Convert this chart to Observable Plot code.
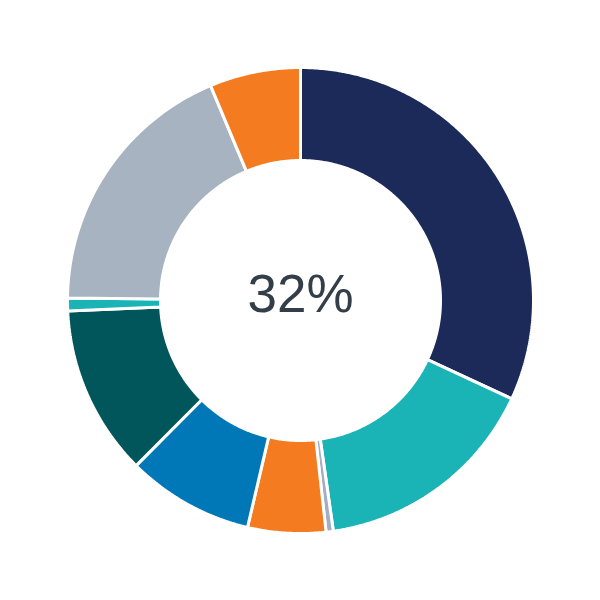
<!DOCTYPE html>
<html>
<head>
<meta charset="utf-8">
<script src="https://cdn.jsdelivr.net/npm/d3@7"></script>
<script src="https://cdn.jsdelivr.net/npm/@observablehq/plot@0.6"></script>
<style>
  html, body { margin: 0; padding: 0; background: #fff; }
  #chart { width: 600px; height: 600px; }
</style>
</head>
<body>
<div id="chart"></div>
<script>
const categories = ["S1", "S2", "S3", "S4", "S5", "S6", "S7", "S8", "S9"];
const values = [31.9, 15.8, 0.5, 5.4, 8.8, 11.8, 0.9, 18.5, 6.3];
const colors = ["#1c2a5a", "#1bb4b6", "#a5adc2", "#f47b20", "#0077b6", "#00565a", "#1bb4b6", "#a8b3c2", "#f47b20"];
const centerLabel = "32%";

const outerR = 233;
const innerR = 140;

const pie = d3.pie().sort(null).value(d => d.value);
const arcs = pie(categories.map((c, i) => ({category: c, value: values[i]})));

// Build polygon outline points for each slice (outer arc then inner arc reversed)
const pts = [];
for (const a of arcs) {
  const n = Math.max(2, Math.ceil((a.endAngle - a.startAngle) / (Math.PI / 360)));
  for (let k = 0; k <= n; k++) {
    const t = a.startAngle + (a.endAngle - a.startAngle) * k / n;
    pts.push({category: a.data.category, x: outerR * Math.sin(t), y: -outerR * Math.cos(t)});
  }
  for (let k = n; k >= 0; k--) {
    const t = a.startAngle + (a.endAngle - a.startAngle) * k / n;
    pts.push({category: a.data.category, x: innerR * Math.sin(t), y: -innerR * Math.cos(t)});
  }
}

const chart = Plot.plot({
  width: 600,
  height: 600,
  margin: 0,
  x: {domain: [-300, 300], axis: null},
  y: {domain: [-300, 300], range: [0, 600], axis: null},
  color: {domain: categories, range: colors},
  marks: [
    Plot.line(pts, {
      x: "x", y: "y", z: "category",
      fill: "category",
      stroke: "white",
      strokeWidth: 3,
      strokeLinejoin: "miter",
      curve: "linear-closed"
    }),
    Plot.text([centerLabel], {
      x: () => 0, y: () => -5,
      text: d => d,
      fontSize: 53,
      fill: "#333e48",
      fontFamily: "Liberation Sans, Arial, sans-serif",
      textAnchor: "middle",
      lineAnchor: "middle"
    })
  ]
});
chart.style.background = "#fff";
document.getElementById("chart").appendChild(chart);
</script>
</body>
</html>
